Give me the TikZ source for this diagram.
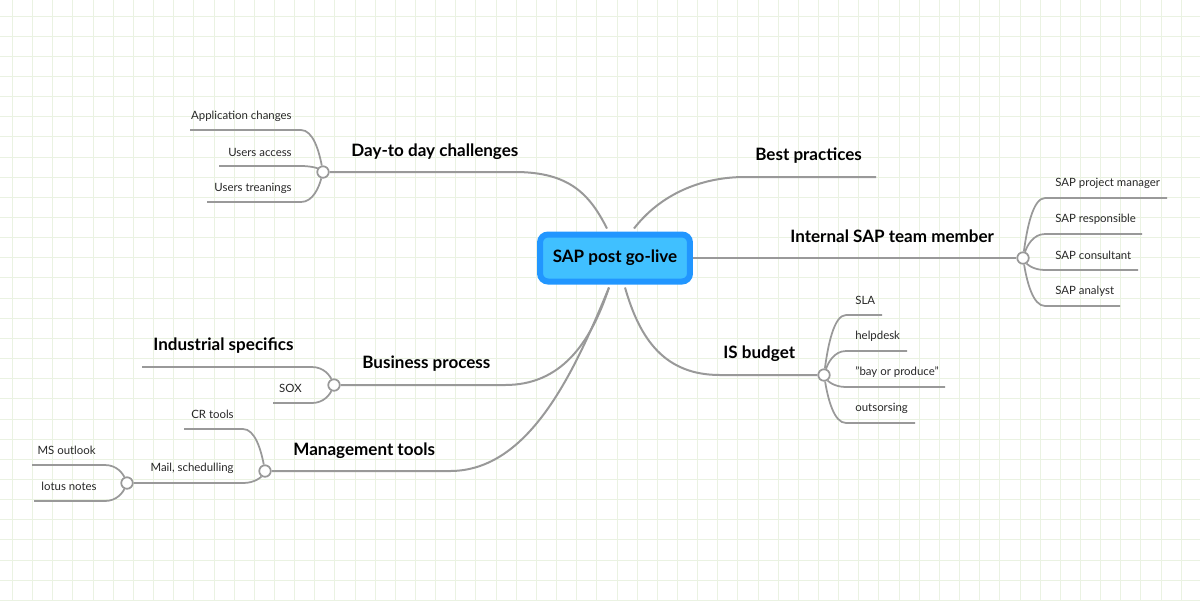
\documentclass[tikz,border=0pt]{standalone}
\usepackage{fontspec}
\setmainfont{Lato}
\usetikzlibrary{calc}

\definecolor{gridgreen}{HTML}{EAF2E2}
\definecolor{twiggray}{HTML}{999999}
\definecolor{rootrim}{HTML}{2196FF}
\definecolor{rootfill}{HTML}{40C0FF}

\tikzset{
  gridline/.style={gridgreen,line width=0.02cm},
  limb/.style={twiggray,line width=0.04cm},
  twig/.style={twiggray,line width=0.035cm},
  hub/.style={circle,draw=twiggray,fill=white,line width=0.035cm,minimum size=0.23cm,inner sep=0pt},
  topic/.style={font=\bfseries\fontsize{9.7}{11}\selectfont,text=black,inner sep=0pt,yshift=-0.03cm},
  leaf/.style={font=\fontsize{6.5}{8}\selectfont,text=black!85,inner sep=0pt,yshift=-0.02cm},
  rootbox/.style={draw=rootrim,fill=rootfill,rounded corners=0.16cm,line width=0.12cm,
    minimum width=3.0cm,minimum height=0.94cm,font=\bfseries\fontsize{9.7}{11}\selectfont,inner sep=0pt}
}

\begin{document}
\begin{tikzpicture}[x=0.02cm,y=-0.02cm]
\useasboundingbox (0,0) rectangle (1200,600);
%background grid
\foreach \k in {0,...,59} \draw[gridline] (12.5+\k*20.15,0) -- (12.5+\k*20.15,600);
\foreach \k in {0,...,29} \draw[gridline] (0,16+\k*20.15) -- (1200,16+\k*20.15);

%hubs
\node[hub] (dayhub) at (323,172) {};
\node[hub] (teamhub) at (1023,258) {};
\node[hub] (budgethub) at (824,375) {};
\node[hub] (bizhub) at (334,385) {};
\node[hub] (toolhub) at (265,471) {};
\node[hub] (mailhub) at (127,483) {};

%free ends of the lines
\coordinate (bestend) at (876,177);
\coordinate (appchg) at (190,130);
\coordinate (usracc) at (219,166);
\coordinate (usrtrn) at (207,202);
\coordinate (indspc) at (142,367);
\coordinate (sox) at (273,403);
\coordinate (crtool) at (184,429);
\coordinate (outlook) at (32,465);
\coordinate (lotus) at (34,501);
\coordinate (sappm) at (1167,198);
\coordinate (sapresp) at (1142,234);
\coordinate (sapcons) at (1138,270);
\coordinate (sapana) at (1120,306);
\coordinate (sla) at (882,315);
\coordinate (helpd) at (907,351);
\coordinate (bay) at (945,387);
\coordinate (outs) at (915,423);

%small branches
\foreach \tip/\hubname/\side in {appchg/dayhub/-1,usracc/dayhub/-1,usrtrn/dayhub/-1,
  indspc/bizhub/-1,sox/bizhub/-1,crtool/toolhub/-1,mailhub/toolhub/-1,
  outlook/mailhub/-1,lotus/mailhub/-1,
  sappm/teamhub/1,sapresp/teamhub/1,sapcons/teamhub/1,sapana/teamhub/1,
  sla/budgethub/1,helpd/budgethub/1,bay/budgethub/1,outs/budgethub/1}
{
  \coordinate (above) at (\tip -| \hubname);
  \draw[twig] (\tip) -- ($(above)+(\side*22,0)$)
    .. controls ($(above)+(\side*10,0)$) and ($(\hubname)!.5!(above)+(\side*4,0)$) .. (\hubname);
}

\node[rootbox] (root) at (615,258) {SAP post go-live};

%main branches
\draw[limb] (dayhub) -- (515,172) .. controls (570,172) and (590,195) .. ($(root.north)+(-8,-3)$);
\draw[limb] ($(root.north)+(19,-3)$) .. controls (660,195) and (700,177) .. (745,177) -- (bestend);
\draw[limb] (root) -- (teamhub);
\draw[limb] ($(root.south)+(10,3)$) .. controls (640,340) and (665,375) .. (720,375) -- (budgethub);
\draw[limb] ($(root.south)+(-6,3)$) .. controls (590,345) and (560,385) .. (505,385) -- (bizhub);
\draw[limb] ($(root.south)+(-6,3)$) .. controls (575,370) and (530,471) .. (450,471) -- (toolhub);

%labels
\node[topic,anchor=west] (daylbl) at (351,150) {Day-to day challenges};
\node[topic,anchor=west] (bestlbl) at (755,154) {Best practices};
\node[topic,anchor=west] (teamlbl) at (790,235) {Internal SAP team member};
\node[topic,anchor=west] (budgetlbl) at (723,352) {IS budget};
\node[topic,anchor=west] (bizlbl) at (362,362) {Business process};
\node[topic,anchor=west] (indlbl) at (153,344) {Industrial specifics};
\node[topic,anchor=west] (toollbl) at (293,449) {Management tools};

\node[leaf,anchor=east] (appchglbl) at (292,115) {Application changes};
\node[leaf,anchor=east] (usracclbl) at (292,151) {Users access};
\node[leaf,anchor=east] (usrtrnlbl) at (292,187) {Users treanings};
\node[leaf,anchor=east] (soxlbl) at (302,387) {SOX};
\node[leaf,anchor=east] (crlbl) at (234,413) {CR tools};
\node[leaf,anchor=east] (maillbl) at (234,467) {Mail, schedulling};
\node[leaf,anchor=east] (outlooklbl) at (96,449) {MS outlook};
\node[leaf,anchor=east] (lotuslbl) at (97,485) {lotus notes};

\node[leaf,anchor=west] (pmlbl) at (1055,182) {SAP project manager};
\node[leaf,anchor=west] (resplbl) at (1055,218) {SAP responsible};
\node[leaf,anchor=west] (conslbl) at (1055,254) {SAP consultant};
\node[leaf,anchor=west] (analbl) at (1055,290) {SAP analyst};
\node[leaf,anchor=west] (slalbl) at (855,299) {SLA};
\node[leaf,anchor=west] (helplbl) at (855,335) {helpdesk};
\node[leaf,anchor=west] (baylbl) at (855,371) {"bay or produce"};
\node[leaf,anchor=west] (outslbl) at (855,407) {outsorsing};
\end{tikzpicture}
\end{document}
